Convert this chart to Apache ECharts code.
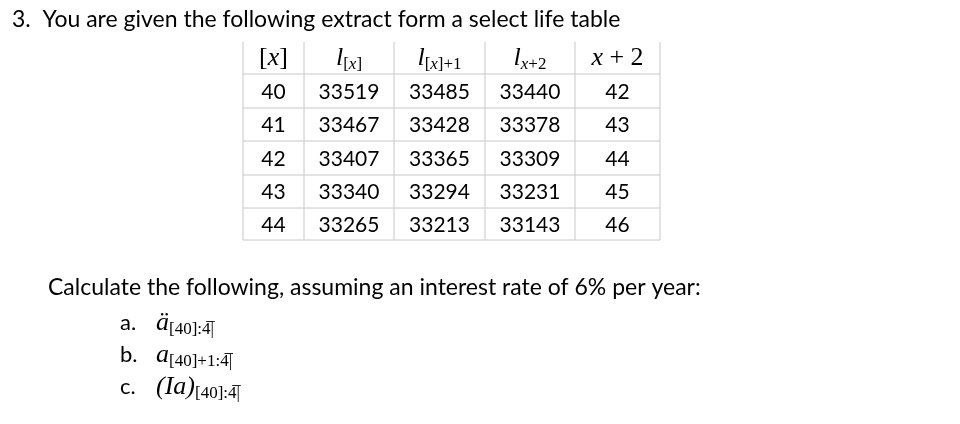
<!DOCTYPE html><html><head><meta charset="utf-8">
<script src="https://cdn.jsdelivr.net/npm/echarts@6/dist/echarts.min.js"></script>
<style>html,body{margin:0;background:#fff}#c{width:960px;height:424px}</style></head><body><div id="c"></div>
<script>
const titleText = "3.  You are given the following extract form a select life table";
const ages = [40, 41, 42, 43, 44];
const lSel = [33519, 33467, 33407, 33340, 33265];
const lSel1 = [33485, 33428, 33365, 33294, 33213];
const lUlt = [33440, 33378, 33309, 33231, 33143];
const ageUlt = [42, 43, 44, 45, 46];
const question = "Calculate the following, assuming an interest rate of 6% per year:";

const colX = [243, 304, 394, 485, 575, 660];
const rowY = [42, 74, 108, 141, 175, 208, 240];
const SF = 'Lato, "Open Sans", sans-serif';
const MF = '"Liberation Serif", serif';
const g = [];
g.push({type:'text', left:12, top:8, style:{text:titleText, font:'23px '+SF, fill:'#000'}});
colX.forEach(x => g.push({type:'line', shape:{x1:x,y1:rowY[0],x2:x,y2:rowY[6]}, style:{stroke:'#c8c8c8',lineWidth:1}}));
rowY.slice(1).forEach(y => g.push({type:'line', shape:{x1:colX[0],y1:y,x2:colX[5],y2:y}, style:{stroke:'#c8c8c8',lineWidth:1}}));
const rich = {m:{font:'italic 26px '+MF, fill:'#000'}, n:{font:'26px '+MF, fill:'#000'}, s:{font:'italic 17px '+MF, fill:'#000', padding:[14,0,0,0]}, sn:{font:'17px '+MF, fill:'#000', padding:[14,0,0,0]}};
const headers = ['{n|[}{m|x}{n|]}', '{m|l}{sn|[}{s|x}{sn|]}', '{m|l}{sn|[}{s|x}{sn|]+1}', '{m|l}{s|x}{sn|+2}', '{m|x}{n| + 2}'];
headers.forEach((h,i)=> g.push({type:'text', x:(colX[i]+colX[i+1])/2, y:58, style:{text:h, rich, align:'center', verticalAlign:'middle'}}));
const cols = [ages, lSel, lSel1, lUlt, ageUlt];
cols.forEach((col,i)=> col.forEach((v,r)=> g.push({type:'text', x:(colX[i]+colX[i+1])/2, y:(rowY[r+1]+rowY[r+2])/2+1, style:{text:String(v), font:'21px '+SF, fill:'#000', align:'center', verticalAlign:'middle'}})));
g.push({type:'text', left:48, top:276, style:{text:question, font:'23px '+SF, fill:'#000'}});
const qr = {l:{font:'22px '+SF, fill:'#000', width:36}, m:{font:'italic 26px '+MF, fill:'#000'}, s:{font:'17px '+MF, fill:'#000', padding:[14,0,0,0]}};
const items = ['{l|a.}{m|ä}{s|[40]:4̅|}', '{l|b.}{m|a}{s|[40]+1:4̅|}', '{l|c.}{m|(Ia)}{s|[40]:4̅|}'];
items.forEach((t,i)=> g.push({type:'text', x:120, y:323+i*32, style:{text:t, rich:qr, verticalAlign:'middle'}}));
const chart = echarts.init(document.getElementById('c'));
chart.setOption({animation:false, graphic:g});
</script></body></html>
